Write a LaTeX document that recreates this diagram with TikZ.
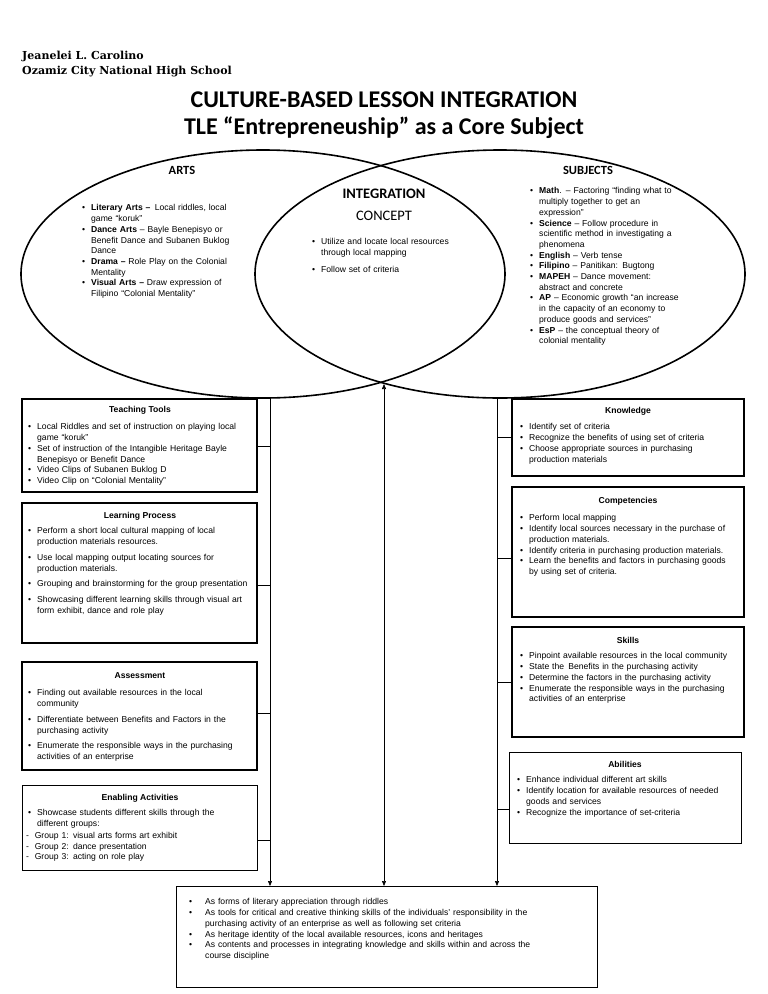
\documentclass[tikz,border=0pt]{standalone}
\usepackage{fontspec}
\setmainfont{Liberation Sans}
\newfontfamily\hfont{Carlito}
\newfontfamily\sfont{DejaVu Serif}
\usepackage{enumitem}
\usetikzlibrary{arrows.meta}
\setlist[itemize]{label=\textbullet,leftmargin=11pt,labelsep=6pt,itemsep=0pt,topsep=0pt,parsep=0pt,partopsep=0pt}
\tikzset{
  thick box/.style={draw,line width=1.6pt},
  thin box/.style={draw,line width=0.8pt},
  body/.style={anchor=north west,inner sep=0pt,font=\fontsize{8.6}{10.7}\selectfont,align=left},
  ttl/.style={font=\fontsize{8.6}{10.5}\selectfont\bfseries,inner sep=0pt},
  conn/.style={line width=0.6pt},
  arr/.style={conn,-{Triangle[length=5pt,width=4pt]}}
}
\newcommand\blist[1]{\begin{itemize}#1\end{itemize}}
\begin{document}
\begin{tikzpicture}[x=1pt,y=-1pt]
\useasboundingbox (0,0) rectangle (768,994);
\node[anchor=west,font=\sfont\bfseries\fontsize{11}{13}\selectfont,inner sep=0pt] (au) at (22,56) {Jeanelei L. Carolino};
\node[anchor=west,font=\sfont\bfseries\fontsize{11}{13}\selectfont,inner sep=0pt] (sc) at (22,72) {Ozamiz City National High School};
\node[font=\hfont\bfseries\fontsize{24}{28}\selectfont] (t1) at (384,100) {CULTURE-BASED LESSON INTEGRATION};
\node[font=\hfont\bfseries\fontsize{24}{28}\selectfont] (t2) at (384,128) {TLE “Entrepreneuship” as a Core Subject};
% ellipses
\draw[line width=1.6pt] (263,274) ellipse [x radius=242,y radius=124];
\draw[line width=1.6pt] (500,274) ellipse [x radius=245,y radius=124];
\coordinate (xb) at (384,384);
\node[font=\hfont\bfseries\fontsize{12.5}{14}\selectfont] (arts) at (182,170) {ARTS};
\node[font=\hfont\bfseries\fontsize{12.5}{14}\selectfont] (subj) at (588,170) {SUBJECTS};
\node[font=\hfont\bfseries\fontsize{14.5}{16}\selectfont] (int) at (384,194) {INTEGRATION};
\node[font=\hfont\fontsize{14.5}{16}\selectfont] (con) at (384,216) {CONCEPT};
\node[body,text width=163pt] (artsl) at (80,200) {\blist{
\item \textbf{Literary Arts –}\, Local riddles, local game “koruk”
\item \textbf{Dance Arts} – Bayle Benepisyo or Benefit Dance and Subanen Buklog Dance
\item \textbf{Drama –} Role Play on the Colonial Mentality
\item \textbf{Visual Arts –} Draw expression of Filipino “Colonial Mentality”}};
\node[body,text width=142pt] (intl) at (310,234) {\blist{\setlength\itemsep{6pt}
\item Utilize and locate local resources through local mapping
\item Follow set of criteria}};
\node[body,text width=156pt] (subl) at (528,183) {\blist{
\item \textbf{Math}. – Factoring “finding what to multiply together to get an expression”
\item \textbf{Science} – Follow procedure in scientific method in investigating a phenomena
\item \textbf{English} – Verb tense
\item \textbf{Filipino} – Panitikan: Bugtong
\item \textbf{MAPEH} – Dance movement: abstract and concrete
\item \textbf{AP} – Economic growth “an increase in the capacity of an economy to produce goods and services”
\item \textbf{EsP} – the conceptual theory of colonial mentality}};
% left boxes
\draw[thick box] (22,399) rectangle (257,492); \coordinate (l1) at (257,446);
\node[ttl] (l1t) at (140,410) {Teaching Tools};
\node[body,text width=222pt] (l1b) at (26,419) {\blist{
\item Local Riddles and set of instruction on playing local game “koruk”
\item Set of instruction of the Intangible Heritage Bayle Benepisyo or Benefit Dance
\item Video Clips of Subanen Buklog D
\item Video Clip on “Colonial Mentality”}};
\draw[thick box] (22,503) rectangle (257,643); \coordinate (l2) at (257,585);
\node[ttl] (l2t) at (140,516) {Learning Process};
\node[body,text width=222pt] (l2b) at (26,523) {\blist{\setlength\itemsep{5pt}
\item Perform a short local cultural mapping of local production materials resources.
\item Use local mapping output locating sources for production materials.
\item Grouping and brainstorming for the group presentation
\item Showcasing different learning skills through visual art form exhibit, dance and role play}};
\draw[thick box] (22,662) rectangle (257,770); \coordinate (l3) at (257,713);
\node[ttl] (l3t) at (140,676) {Assessment};
\node[body,text width=215pt] (l3b) at (26,685) {\blist{\setlength\itemsep{5pt}
\item Finding out available resources in the local community
\item Differentiate between Benefits and Factors in the purchasing activity
\item Enumerate the responsible ways in the purchasing activities of an enterprise}};
\draw[thin box] (22,785) rectangle (257,870); \coordinate (l4) at (257,840);
\node[ttl] (l4t) at (140,798) {Enabling Activities};
\node[body,text width=215pt] (l4b) at (26,805) {\blist{
\item Showcase students different skills through the different groups:\\[1pt]
\hspace*{-11pt}-\ \ Group 1: visual arts forms art exhibit\\
\hspace*{-11pt}-\ \ Group 2: dance presentation\\
\hspace*{-11pt}-\ \ Group 3: acting on role play}};
% right boxes
\draw[thick box] (512,399) rectangle (744,476); \coordinate (r1) at (512,437);
\node[ttl] (r1t) at (628,411) {Knowledge};
\node[body,text width=215pt] (r1b) at (518,419) {\blist{
\item Identify set of criteria
\item Recognize the benefits of using set of criteria
\item Choose appropriate sources in purchasing production materials}};
\draw[thick box] (512,487) rectangle (744,617); \coordinate (r2) at (512,558);
\node[ttl] (r2t) at (628,501) {Competencies};
\node[body,text width=215pt] (r2b) at (518,510) {\blist{
\item Perform local mapping
\item Identify local sources necessary in the purchase of production materials.
\item Identify criteria in purchasing production materials.
\item Learn the benefits and factors in purchasing goods by using set of criteria.}};
\draw[thick box] (512,627) rectangle (744,737); \coordinate (r3) at (512,682);
\node[ttl] (r3t) at (628,640) {Skills};
\node[body,text width=215pt] (r3b) at (518,648) {\blist{
\item Pinpoint available resources in the local community
\item State the\, Benefits in the purchasing activity
\item Determine the factors in the purchasing activity
\item Enumerate the responsible ways in the purchasing activities of an enterprise}};
\draw[thin box] (509,752) rectangle (741,843); \coordinate (r4) at (509,809);
\node[ttl] (r4t) at (625,764) {Abilities};
\node[body,text width=205pt] (r4b) at (515,772) {\blist{
\item Enhance individual different art skills
\item Identify location for available resources of needed goods and services
\item Recognize the importance of set-criteria}};
% bottom box
\draw[thin box] (176,886) rectangle (597,987);
\coordinate (bl) at (270,886); \coordinate (bm) at (384,886); \coordinate (br) at (497,886);
\node[body,text width=372pt] (bb) at (186,894) {\begin{itemize}[leftmargin=19pt,labelsep=13pt]
\item As forms of literary appreciation through riddles
\item As tools for critical and creative thinking skills of the individuals’ responsibility in the purchasing activity of an enterprise as well as following set criteria
\item As heritage identity of the local available resources, icons and heritages
\item As contents and processes in integrating knowledge and skills within and across the course discipline
\end{itemize}};
% connectors
\coordinate (lt) at (270,398); \coordinate (rt) at (497,398);
\draw[arr] (lt) -- (bl);
\draw[arr] (rt) -- (br);
\draw[conn,{Triangle[length=5pt,width=4pt]}-{Triangle[length=5pt,width=4pt]}] (xb) -- (bm);
\foreach \c in {l1,l2,l3,l4} \draw[conn] (\c) -- (\c -| lt);
\foreach \c in {r1,r2,r3,r4} \draw[conn] (\c) -- (\c -| rt);
\end{tikzpicture}
\end{document}
